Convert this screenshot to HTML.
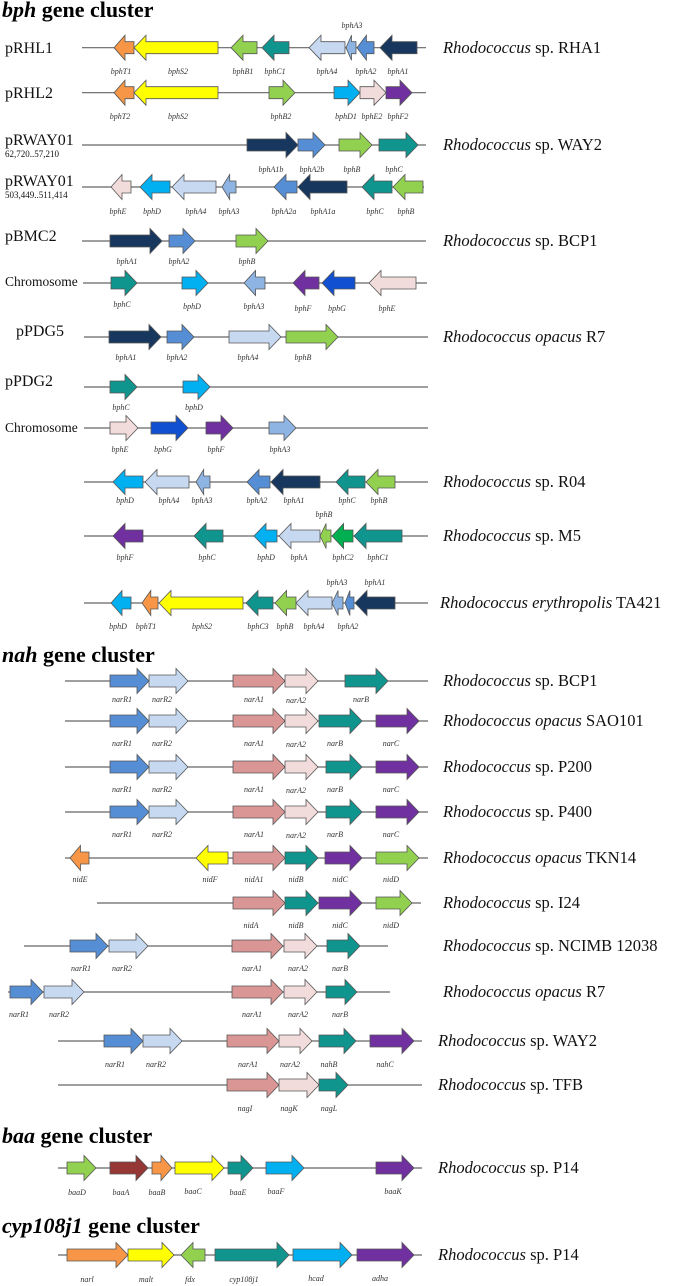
<!DOCTYPE html>
<html><head><meta charset="utf-8"><style>
html,body{margin:0;padding:0;background:#fff;}
svg{display:block;}
.g{font-family:"Liberation Serif",serif;font-style:italic;font-size:8px;fill:#333;text-anchor:middle;}
.r{font-family:"Liberation Serif",serif;font-size:16px;fill:#111;}
.s{font-family:"Liberation Serif",serif;font-size:9px;fill:#111;}
.sp{font-family:"Liberation Serif",serif;font-size:16.5px;fill:#111;}
.h{font-family:"Liberation Serif",serif;font-size:22px;font-weight:bold;fill:#000;}
</style></head><body>
<svg id="s" width="685" height="1286" viewBox="0 0 685 1286" xmlns="http://www.w3.org/2000/svg">
<g id="lines" stroke="#666" stroke-width="1.2"></g>
<g id="arr" stroke="#555" stroke-width="0.8"></g>

<text class="h" x="2" y="17"><tspan font-style="italic">bph</tspan> gene cluster</text>
<text class="h" x="2" y="662"><tspan font-style="italic">nah</tspan> gene cluster</text>
<text class="h" x="2" y="1143"><tspan font-style="italic">baa</tspan> gene cluster</text>
<text class="h" x="2" y="1233"><tspan font-style="italic">cyp108j1</tspan> gene cluster</text>

<text class="r" x="5" y="53">pRHL1</text>
<text class="r" x="5" y="98">pRHL2</text>
<text class="r" x="5" y="145">pRWAY01</text>
<text class="s" x="5" y="157">62,720..57,210</text>
<text class="r" x="5" y="186">pRWAY01</text>
<text class="s" x="5" y="198">503,449..511,414</text>
<text class="r" x="5" y="241">pBMC2</text>
<text class="r" x="5" y="286" style="font-size:13.5px">Chromosome</text>
<text class="r" x="16" y="336">pPDG5</text>
<text class="r" x="5" y="386">pPDG2</text>
<text class="r" x="5" y="432" style="font-size:13.5px">Chromosome</text>

<g class="sp">
<text x="443" y="53"><tspan font-style="italic">Rhodococcus</tspan> sp. RHA1</text>
<text x="443" y="150"><tspan font-style="italic">Rhodococcus</tspan> sp. WAY2</text>
<text x="443" y="246"><tspan font-style="italic">Rhodococcus</tspan> sp. BCP1</text>
<text x="443" y="342"><tspan font-style="italic">Rhodococcus opacus</tspan> R7</text>
<text x="443" y="487"><tspan font-style="italic">Rhodococcus</tspan> sp. R04</text>
<text x="443" y="541"><tspan font-style="italic">Rhodococcus</tspan> sp. M5</text>
<text x="440" y="608"><tspan font-style="italic">Rhodococcus erythropolis</tspan> TA421</text>
<text x="443" y="686"><tspan font-style="italic">Rhodococcus</tspan> sp. BCP1</text>
<text x="443" y="726"><tspan font-style="italic">Rhodococcus opacus</tspan> SAO101</text>
<text x="443" y="772"><tspan font-style="italic">Rhodococcus</tspan> sp. P200</text>
<text x="443" y="817"><tspan font-style="italic">Rhodococcus</tspan> sp. P400</text>
<text x="443" y="863"><tspan font-style="italic">Rhodococcus opacus</tspan> TKN14</text>
<text x="443" y="908"><tspan font-style="italic">Rhodococcus</tspan> sp. I24</text>
<text x="443" y="951"><tspan font-style="italic">Rhodococcus</tspan> sp. NCIMB 12038</text>
<text x="443" y="997"><tspan font-style="italic">Rhodococcus opacus</tspan> R7</text>
<text x="438" y="1046"><tspan font-style="italic">Rhodococcus</tspan> sp. WAY2</text>
<text x="438" y="1090"><tspan font-style="italic">Rhodococcus</tspan> sp. TFB</text>
<text x="438" y="1173"><tspan font-style="italic">Rhodococcus</tspan> sp. P14</text>
<text x="438" y="1260"><tspan font-style="italic">Rhodococcus</tspan> sp. P14</text>
</g>

<g class="g">
<text x="121" y="74">bphT1</text><text x="178" y="74">bphS2</text><text x="243" y="74">bphB1</text><text x="275" y="74">bphC1</text><text x="327" y="74">bphA4</text><text x="366" y="74">bphA2</text><text x="398" y="74">bphA1</text><text x="352" y="28">bphA3</text>
<text x="120" y="119">bphT2</text><text x="178" y="119">bphS2</text><text x="281" y="119">bphB2</text><text x="346" y="119">bphD1</text><text x="372" y="119">bphE2</text><text x="398" y="119">bphF2</text>
<text x="271" y="172">bphA1b</text><text x="312" y="172">bphA2b</text><text x="352" y="172">bphB</text><text x="394" y="172">bphC</text>
<text x="118" y="214">bphE</text><text x="152" y="214">bphD</text><text x="196" y="214">bphA4</text><text x="229" y="214">bphA3</text><text x="284" y="214">bphA2a</text><text x="323" y="214">bphA1a</text><text x="375" y="214">bphC</text><text x="406" y="214">bphB</text>
<text x="127" y="264">bphA1</text><text x="179" y="264">bphA2</text><text x="247" y="264">bphB</text>
<text x="122" y="307">bphC</text><text x="192" y="309">bphD</text><text x="254" y="309">bphA3</text><text x="303" y="311">bphF</text><text x="337" y="311">bphG</text><text x="387" y="311">bphE</text>
<text x="126" y="360">bphA1</text><text x="177" y="360">bphA2</text><text x="248" y="360">bphA4</text><text x="303" y="360">bphB</text>
<text x="121" y="410">bphC</text><text x="194" y="410">bphD</text>
<text x="120" y="452">bphE</text><text x="163" y="452">bphG</text><text x="216" y="452">bphF</text><text x="280" y="452">bphA3</text>
<text x="125" y="503">bphD</text><text x="169" y="503">bphA4</text><text x="202" y="503">bphA3</text><text x="257" y="503">bphA2</text><text x="294" y="503">bphA1</text><text x="347" y="503">bphC</text><text x="379" y="503">bphB</text>
<text x="125" y="560">bphF</text><text x="207" y="560">bphC</text><text x="266" y="560">bphD</text><text x="299" y="560">bphA</text><text x="343" y="560">bphC2</text><text x="378" y="560">bphC1</text><text x="324" y="517">bphB</text>
<text x="118" y="629">bphD</text><text x="146" y="629">bphT1</text><text x="202" y="629">bphS2</text><text x="258" y="629">bphC3</text><text x="285" y="629">bphB</text><text x="314" y="629">bphA4</text><text x="348" y="629">bphA2</text><text x="337" y="585">bphA3</text><text x="375" y="585">bphA1</text>

<text x="122" y="702">narR1</text><text x="162" y="702">narR2</text><text x="254" y="702">narA1</text><text x="296" y="703">narA2</text><text x="361" y="702">narB</text>
<text x="122" y="746">narR1</text><text x="162" y="746">narR2</text><text x="254" y="746">narA1</text><text x="296" y="747">narA2</text><text x="335" y="746">narB</text><text x="391" y="746">narC</text>
<text x="122" y="792">narR1</text><text x="162" y="792">narR2</text><text x="254" y="792">narA1</text><text x="296" y="793">narA2</text><text x="335" y="792">narB</text><text x="391" y="792">narC</text>
<text x="122" y="837">narR1</text><text x="162" y="837">narR2</text><text x="254" y="837">narA1</text><text x="296" y="838">narA2</text><text x="335" y="837">narB</text><text x="391" y="837">narC</text>
<text x="80" y="882">nidE</text><text x="210" y="882">nidF</text><text x="254" y="882">nidA1</text><text x="296" y="882">nidB</text><text x="340" y="882">nidC</text><text x="391" y="882">nidD</text>
<text x="251" y="928">nidA</text><text x="296" y="928">nidB</text><text x="340" y="928">nidC</text><text x="391" y="928">nidD</text>
<text x="81" y="971">narR1</text><text x="122" y="971">narR2</text><text x="252" y="971">narA1</text><text x="298" y="971">narA2</text><text x="340" y="971">narB</text>
<text x="19" y="1017">narR1</text><text x="59" y="1017">narR2</text><text x="252" y="1017">narA1</text><text x="298" y="1017">narA2</text><text x="340" y="1017">narB</text>
<text x="115" y="1067">narR1</text><text x="156" y="1067">narR2</text><text x="248" y="1067">narA1</text><text x="290" y="1067">narA2</text><text x="329" y="1067">nahB</text><text x="385" y="1067">nahC</text>
<text x="245" y="1111">nagI</text><text x="289" y="1111">nagK</text><text x="329" y="1111">nagL</text>
<text x="77" y="1195">baaD</text><text x="121" y="1195">baaA</text><text x="157" y="1195">baaB</text><text x="193" y="1194">baaC</text><text x="238" y="1195">baaE</text><text x="276" y="1194">baaF</text><text x="393" y="1194">baaK</text>
<text x="87" y="1282">narl</text><text x="146" y="1282">malt</text><text x="190" y="1282">fdx</text><text x="244" y="1282">cyp108j1</text><text x="316" y="1281">hcad</text><text x="380" y="1281">adha</text>
</g>
</svg>
<script>
var T='#f79646',S='#ffff00',G='#92d050',C='#0f948e',LB='#c6d9f1',A3='#8eb4e3',A2='#558ed5',N='#17375e',D='#00b0f0',E='#f2dcdb',F='#7030a0',BG='#1150d0',C2='#00b050',NA='#da9694',BA='#953735';
var L=[[47.7,82,426],[92.7,82,426],[145,82,426],[187,82,424],[241,82,426],[283,83,427],[337,84,428],[387,84,428],[428,84,428],[482,84,428],[536,84,428],[603,84,428],
[681,65,428],[721,65,428],[767,65,428],[812,65,428],[858,65,428],[903,97,421],[946,24,388],[992,8,390],[1041,58,422],[1085,58,422],[1168,58,422],[1255,58,422]];
var A=[
[47.7,'l',[[114,134,T],[134,218,S],[231,257,G],[262,289,C],[309,345,LB],[346,356,A3],[357,374,A2],[380,417,N]]],
[92.7,'x',[[114,134,T,'l'],[134,218,S,'l'],[269,295,G],[334,360,D],[360,386,E],[386,412,F]]],
[145,'r',[[247,298,N],[298,325,A2],[339,372,G],[379,418,C]]],
[187,'l',[[111,131,E],[140,170,D],[172,216,LB],[222,236,A3],[274,297,A2],[298,347,N],[362,392,C],[393,423,G]]],
[241,'r',[[110,162,N],[169,195,A2],[236,268,G]]],
[283,'x',[[111,137,C],[182,208,D],[244,265,A3,'l'],[293,319,F,'l'],[322,355,BG,'l'],[369,416,E,'l']]],
[337,'r',[[109,161,N],[167,194,A2],[229,281,LB],[286,338,G]]],
[387,'r',[[110,137,C],[183,210,D]]],
[428,'r',[[110,138,E],[151,188,BG],[206,233,F],[269,296,A3]]],
[482,'l',[[113,143,D],[145,189,LB],[196,210,A3],[247,270,A2],[271,320,N],[336,365,C],[366,395,G]]],
[536,'l',[[113,143,F],[194,223,C],[254,277,D],[279,320,LB],[320,331,G],[332,353,C2],[354,402,C]]],
[603,'l',[[111,131,D],[142,158,T],[159,243,S],[246,273,C],[275,296,G],[296,332,LB],[332,343,A3],[345,354,A2],[355,395,N]]],
[681,'r',[[110,149,A2],[149,188,LB],[233,285,NA],[285,318,E],[345,388,C]]],
[721,'r',[[110,149,A2],[149,188,LB],[233,285,NA],[285,318,E],[319,362,C],[376,419,F]]],
[767,'r',[[110,149,A2],[149,188,LB],[233,285,NA],[285,318,E],[326,362,C],[376,419,F]]],
[812,'r',[[110,149,A2],[149,188,LB],[233,285,NA],[285,318,E],[326,362,C],[376,419,F]]],
[858,'x',[[70,89,T,'l'],[196,228,S,'l'],[233,285,NA],[285,318,C],[325,362,F],[376,419,G]]],
[903,'r',[[233,285,NA],[285,318,C],[319,362,F],[376,412,G]]],
[946,'r',[[70,108,A2],[109,148,LB],[232,283,NA],[284,317,E],[327,360,C]]],
[992,'r',[[10,43,A2],[44,84,LB],[232,283,NA],[284,317,E],[326,357,C]]],
[1041,'r',[[104,143,A2],[143,182,LB],[227,279,NA],[279,312,E],[319,356,C],[370,414,F]]],
[1085,'r',[[227,279,NA],[279,319,E],[319,348,C]]],
[1168,'r',[[67,96,G],[110,148,BA],[152,172,T],[175,224,S],[228,253,C],[266,304,D],[376,414,F]]],
[1255,'x',[[67,128,T],[128,174,S],[181,205,G,'l'],[215,289,C],[293,352,D],[357,414,F]]]
];
var ns='http://www.w3.org/2000/svg',lg=document.getElementById('lines'),ag=document.getElementById('arr');
L.forEach(function(l){var e=document.createElementNS(ns,'line');e.setAttribute('x1',l[1]);e.setAttribute('x2',l[2]);e.setAttribute('y1',l[0]);e.setAttribute('y2',l[0]);lg.appendChild(e);});
A.forEach(function(r){var y=r[0];r[2].forEach(function(g){var a=g[0],b=g[1],dir=g[3]||(r[1]=='l'?'l':'r');var w=b-a,h=Math.min(12,w*0.55),bh=6,hh=12.5,p;
if(dir=='r'){p=[[a,y-bh],[b-h,y-bh],[b-h,y-hh],[b,y],[b-h,y+hh],[b-h,y+bh],[a,y+bh]];}
else{p=[[b,y-bh],[a+h,y-bh],[a+h,y-hh],[a,y],[a+h,y+hh],[a+h,y+bh],[b,y+bh]];}
var e=document.createElementNS(ns,'polygon');e.setAttribute('points',p.map(function(q){return q[0].toFixed(1)+','+q[1].toFixed(1)}).join(' '));e.setAttribute('fill',g[2]);ag.appendChild(e);});});
</script>
</body></html>
